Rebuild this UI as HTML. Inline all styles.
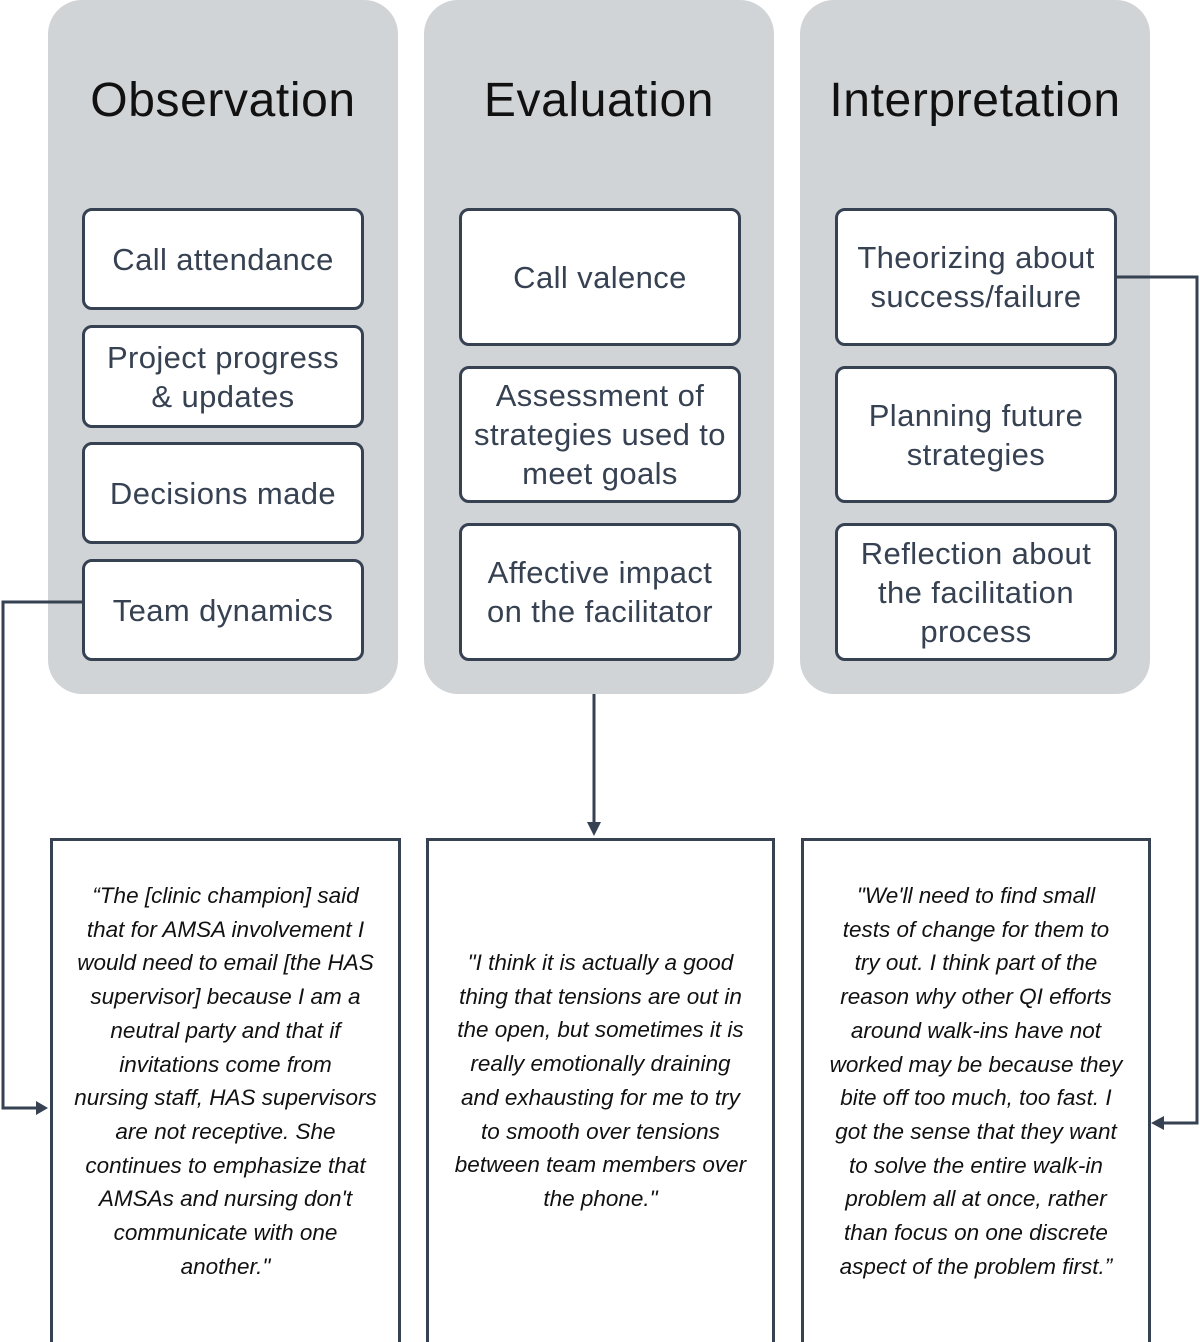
<!DOCTYPE html>
<html style="overflow:hidden;height:1342px"><head><meta charset="utf-8"><style>
body{margin:0;width:1200px;height:1342px;background:#fff;position:relative;overflow:hidden;font-family:"Liberation Sans",sans-serif}
.p{position:absolute;top:0;width:350px;height:694px;background:#d1d4d7;border-radius:34px}
.h{position:absolute;top:73px;width:350px;text-align:center;font-size:48px;letter-spacing:0.6px;color:#111}
.b{position:absolute;box-sizing:border-box;border:3px solid #364152;border-radius:10px;background:#fff;display:flex;align-items:center;justify-content:center;text-align:center;color:#364152;font-size:31px;letter-spacing:0.4px;line-height:39px}
.q{position:absolute;top:838px;height:540px;box-sizing:border-box;border:3px solid #364152;background:#fff;display:flex;justify-content:center;text-align:center;font-style:italic;font-size:22.5px;line-height:33.7px;color:#111}
</style></head><body>
<div class="p" style="left:48px"></div><div class="p" style="left:424px"></div><div class="p" style="left:800px"></div>
<div class="h" style="left:48px">Observation</div>
<div class="h" style="left:424px">Evaluation</div>
<div class="h" style="left:800px">Interpretation</div>

<div class="b" style="left:82px;top:208px;width:282px;height:102px">Call attendance</div>
<div class="b" style="left:82px;top:325px;width:282px;height:103px">Project progress<br>&amp; updates</div>
<div class="b" style="left:82px;top:442px;width:282px;height:102px">Decisions made</div>
<div class="b" style="left:82px;top:559px;width:282px;height:102px">Team dynamics</div>

<div class="b" style="left:459px;top:208px;width:282px;height:138px">Call valence</div>
<div class="b" style="left:459px;top:366px;width:282px;height:137px">Assessment of<br>strategies used to<br>meet goals</div>
<div class="b" style="left:459px;top:523px;width:282px;height:138px">Affective impact<br>on the facilitator</div>

<div class="b" style="left:835px;top:208px;width:282px;height:138px">Theorizing about<br>success/failure</div>
<div class="b" style="left:835px;top:366px;width:282px;height:137px">Planning future<br>strategies</div>
<div class="b" style="left:835px;top:523px;width:282px;height:138px">Reflection about<br>the facilitation<br>process</div>

<div class="q" style="left:50px;width:351px;padding-top:38px">“The [clinic champion] said<br>that for AMSA involvement I<br>would need to email [the HAS<br>supervisor] because I am a<br>neutral party and that if<br>invitations come from<br>nursing staff, HAS supervisors<br>are not receptive. She<br>continues to emphasize that<br>AMSAs and nursing don't<br>communicate with one<br>another."</div>
<div class="q" style="left:426px;width:349px;padding-top:105px">"I think it is actually a good<br>thing that tensions are out in<br>the open, but sometimes it is<br>really emotionally draining<br>and exhausting for me to try<br>to smooth over tensions<br>between team members over<br>the phone."</div>
<div class="q" style="left:801px;width:350px;padding-top:38px">"We'll need to find small<br>tests of change for them to<br>try out. I think part of the<br>reason why other QI efforts<br>around walk-ins have not<br>worked may be because they<br>bite off too much, too fast. I<br>got the sense that they want<br>to solve the entire walk-in<br>problem all at once, rather<br>than focus on one discrete<br>aspect of the problem first.”</div>

<svg style="position:absolute;left:0;top:0" width="1200" height="1342">
<g fill="none" stroke="#364152" stroke-width="3">
<polyline points="82,602 3,602 3,1108 38,1108"/>
<polyline points="594,694 594,824"/>
<polyline points="1117,277 1197,277 1197,1123 1162,1123"/>
</g>
<g fill="#364152">
<polygon points="48,1108 36,1101 36,1115"/>
<polygon points="594,836 587,822 601,822"/>
<polygon points="1151,1123 1164,1116 1164,1130"/>
</g>
</svg>
</body></html>
